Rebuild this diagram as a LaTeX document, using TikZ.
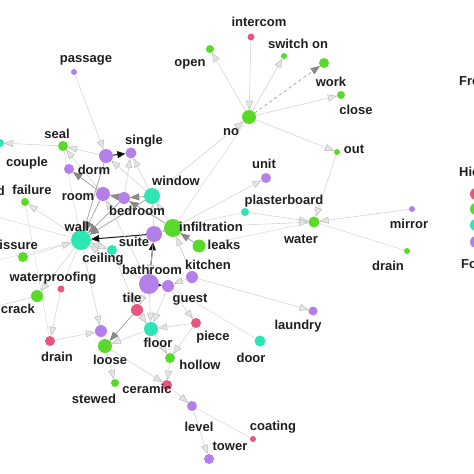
\documentclass[tikz,border=0pt]{standalone}
\usepackage{fontspec}
\setmainfont{Liberation Sans}
\usetikzlibrary{arrows.meta}
\definecolor{cpink}{HTML}{E8557E}
\definecolor{cgreen}{HTML}{5AD92A}
\definecolor{ccyan}{HTML}{2DE6B4}
\definecolor{cpurple}{HTML}{B47FE8}
\pgfdeclarelayer{bg}
\pgfsetlayers{bg,main}
\begin{document}
\begin{tikzpicture}[x=1pt,y=-1pt,
 vert/.style={circle,inner sep=0pt,draw=none,minimum size=#1},
 pk/.style={vert=#1,fill=cpink},
 gr/.style={vert=#1,fill=cgreen},
 cy/.style={vert=#1,fill=ccyan},
 pu/.style={vert=#1,fill=cpurple},
 lab/.style={font=\fontsize{13}{15}\selectfont\bfseries,text=black!88,inner sep=0pt},
 e/.style={draw=black!17,line width=0.6pt,-{Triangle[length=9pt,width=7pt,fill=black!10,color=black!30,line width=0.4pt]}},
 ed/.style={draw=black!38,line width=0.7pt,-{Triangle[length=9pt,width=7pt,fill=black!45,color=black!55,line width=0.4pt]}},
 eb/.style={draw=black!90,line width=1pt,-{Triangle[length=8pt,width=7pt,fill=black]}},
 ln/.style={draw=black!15,line width=0.5pt},
]
\useasboundingbox (0,0) rectangle (474,474);
\clip (0,0) rectangle (474,474);
% vertices
\node[pk=7pt] (intercom) at (251,37) {};
\node[gr=6pt] (switchon) at (284,56) {};
\node[gr=8pt] (open) at (210,49) {};
\node[gr=10pt] (work) at (324,63) {};
\node[gr=8pt] (close) at (341,95) {};
\node[gr=14pt] (no) at (249,117) {};
\node[gr=6pt] (out) at (337,152) {};
\node[pu=6pt] (passage) at (74,72) {};
\node[gr=10pt] (seal) at (63,146) {};
\node[cy=8pt] (leftcyan) at (0,143) {};
\node[pu=11pt] (single) at (131,153) {};
\node[pu=14pt] (dorm) at (106,156) {};
\node[pu=10pt] (couple) at (69,169) {};
\node[cy=16pt] (window) at (152,196) {};
\node[gr=8pt] (failure) at (25,202) {};
\node[pu=14pt] (room) at (103,194) {};
\node[pu=12pt] (bedroom) at (124,198) {};
\node[cy=20pt] (wall) at (81,240) {};
\node[gr=18pt] (infiltration) at (173,228) {};
\node[pu=16pt] (suite) at (154,234) {};
\node[gr=13pt] (leaks) at (199,246) {};
\node[cy=10pt] (ceiling) at (112,250) {};
\node[gr=10pt] (fissure) at (23,257) {};
\node[pu=10pt] (unit) at (266,178) {};
\node[cy=8pt] (plasterboard) at (245,212) {};
\node[gr=11pt] (water) at (314,222) {};
\node[pu=6pt] (mirror) at (412,209) {};
\node[gr=6pt] (drainR) at (407,251) {};
\node[pu=20pt] (bathroom) at (149,284) {};
\node[pu=12pt] (kitchen) at (192,277) {};
\node[pu=12pt] (guest) at (168,286) {};
\node[gr=12pt] (crackG) at (37,296) {};
\node[pk=7pt] (wproof) at (61,289) {};
\node[pk=12pt] (tile) at (137,310) {};
\node[pk=10pt] (piece) at (196,323) {};
\node[pu=12pt] (purpleL) at (101,331) {};
\node[cy=14pt] (floor) at (151,329) {};
\node[pk=10pt] (drainL) at (50,341) {};
\node[gr=14pt] (loose) at (105,346) {};
\node[gr=10pt] (hollow) at (170,358) {};
\node[gr=8pt] (ceramic) at (115,383) {};
\node[pk=10pt] (ceramicP) at (167,385) {};
\node[pu=10pt] (level) at (192,406) {};
\node[pu=10pt] (tower) at (209,459) {};
\node[pk=6pt] (coating) at (253,439) {};
\node[pu=9pt] (laundry) at (313,311) {};
\node[cy=11pt] (door) at (260,341) {};
\node[pk=12pt] (lg1) at (476,194) {};
\node[gr=12pt] (lg2) at (476,209) {};
\node[cy=12pt] (lg3) at (476,225) {};
\node[pu=12pt] (lg4) at (476,242) {};
\coordinate (offA) at (-10,215);
\coordinate (offB) at (-10,308);
\coordinate (offC) at (-10,262);
% labels
\node[lab] (t1) at (259,22) {intercom};
\node[lab] (t2) at (298,44) {switch on};
\node[lab] (t3) at (190,64) {open};
\node[lab] (t4) at (331,82) {work};
\node[lab] (t5) at (356,110) {close};
\node[lab] (t6) at (231,132) {no};
\node[lab] (t7) at (354,149) {out};
\node[lab] (t8) at (86,60) {passage};
\node[lab] (t9) at (57,134) {seal};
\node[lab] (t10) at (144,141) {single};
\node[lab] (t11) at (27,163) {couple};
\node[lab] (t12) at (94,170) {dorm};
\node[lab] (t13) at (176,181) {window};
\node[lab] (t14) at (32,190) {failure};
\node[lab,anchor=east] (t15) at (5,191) {d};
\node[lab] (t16) at (78,197) {room};
\node[lab] (t17) at (137,211) {bedroom};
\node[lab] (t18) at (77,227) {wall};
\node[lab] (t19) at (211,227) {infiltration};
\node[lab] (t20) at (264,164) {unit};
\node[lab] (t21) at (284,201) {plasterboard};
\node[lab] (t22) at (301,239) {water};
\node[lab] (t23) at (409,224) {mirror};
\node[lab] (t24) at (388,266) {drain};
\node[lab] (t25) at (134,242) {suite};
\node[lab] (t26) at (103,259) {ceiling};
\node[lab] (t27) at (224,245) {leaks};
\node[lab,anchor=east] (t28) at (38,245) {fissure};
\node[lab] (t29) at (53,278) {waterproofing};
\node[lab,anchor=east] (t30) at (35,309) {crack};
\node[lab] (t31) at (132,298) {tile};
\node[lab] (t32) at (190,300) {guest};
\node[lab] (t33) at (213,337) {piece};
\node[lab] (t34) at (208,265) {kitchen};
\node[lab] (t35) at (152,270) {bathroom};
\node[lab] (t36) at (158,343) {floor};
\node[lab] (t37) at (57,357) {drain};
\node[lab] (t38) at (110,360) {loose};
\node[lab] (t39) at (200,365) {hollow};
\node[lab] (t40) at (147,389) {ceramic};
\node[lab] (t41) at (94,399) {stewed};
\node[lab] (t42) at (199,427) {level};
\node[lab] (t43) at (230,446) {tower};
\node[lab] (t44) at (273,427) {coating};
\node[lab] (t45) at (298,326) {laundry};
\node[lab] (t46) at (251,358) {door};
\node[lab,anchor=west] (t47) at (459,82) {Frequency};
\node[lab,anchor=west] (t48) at (459,173) {Hierarchy};
\node[lab,anchor=west] (t49) at (461,264) {Fo};
% edges
\begin{pgfonlayer}{bg}
\draw[e] (intercom) -- (no);
\draw[e] (no) -- (switchon);
\draw[e] (no) -- (open);
\draw[ed,dashed] (no) -- (work);
\draw[e] (no) -- (close);
\draw[e] (no) -- (out);
\draw[e] (window) -- (no);
\draw[ln] (infiltration) -- (no);
\draw[e] (out) -- (water);
\draw[e] (plasterboard) -- (water);
\draw[e] (infiltration) -- (water);
\draw[e] (mirror) -- (water);
\draw[ln] (water) -- (drainR);
\draw[ln] (leaks) -- (water);
\draw[e] (infiltration) -- (unit);
\draw[ln] (infiltration) -- (plasterboard);
\draw[e] (passage) -- (dorm);
\draw[e] (seal) -- (leftcyan);
\draw[e] (dorm) -- (seal);
\draw[e] (room) -- (seal);
\draw[eb] (dorm) -- (single);
\draw[e] (bedroom) -- (single);
\draw[e] (window) -- (single);
\draw[e] (window) -- (dorm);
\draw[ed] (room) -- (couple);
\draw[ed] (bedroom) -- (room);
\draw[ed] (window) -- (bedroom);
\draw[e] (infiltration) -- (window);
\draw[ed] (bedroom) -- (wall);
\draw[ed] (room) -- (wall);
\draw[ed] (dorm) -- (wall);
\draw[ed] (window) -- (wall);
\draw[eb] (suite) -- (wall);
\draw[eb] (bathroom) -- (suite);
\draw[eb] (bathroom) -- (guest);
\draw[e] (ceiling) -- (wall);
\draw[e] (fissure) -- (wall);
\draw[e] (wall) -- (failure);
\draw[ln] (wall) -- (offA);
\draw[ln] (wall) -- (offC);
\draw[e] (infiltration) -- (suite);
\draw[ed] (leaks) -- (infiltration);
\draw[e] (kitchen) -- (infiltration);
\draw[e] (suite) -- (window);
\draw[ed] (infiltration) -- (bedroom);
\draw[e] (bathroom) -- (wall);
\draw[e] (bathroom) -- (room);
\draw[e] (wall) -- (crackG);
\draw[e] (crackG) -- (offB);
\draw[e] (wproof) -- (drainL);
\draw[ln] (wall) -- (wproof);
\draw[ed] (tile) -- (loose);
\draw[e] (drainL) -- (purpleL);
\draw[e] (guest) -- (floor);
\draw[e] (piece) -- (floor);
\draw[e] (bathroom) -- (floor);
\draw[e] (wall) -- (purpleL);
\draw[e] (tile) -- (floor);
\draw[e] (loose) -- (ceramic);
\draw[e] (floor) -- (hollow);
\draw[e] (hollow) -- (ceramicP);
\draw[e] (ceramicP) -- (level);
\draw[e] (piece) -- (hollow);
\draw[e] (loose) -- (ceramicP);
\draw[e] (level) -- (tower);
\draw[ln] (level) -- (coating);
\draw[e] (kitchen) -- (laundry);
\draw[ln] (guest) -- (door);
\draw[e] (bathroom) -- (tile);
\draw[e] (kitchen) -- (guest);
\draw[e] (guest) -- (piece);
\draw[e] (floor) -- (loose);
\draw[e] (wall) -- (ceiling);
\draw[e] (ceiling) -- (tile);
\draw[ln] (infiltration) -- (kitchen);
\draw[e] (suite) -- (bathroom);
\draw[ln] (seal) -- (wall);
\draw[ln] (failure) -- (drainL);
\end{pgfonlayer}
\end{tikzpicture}
\end{document}
